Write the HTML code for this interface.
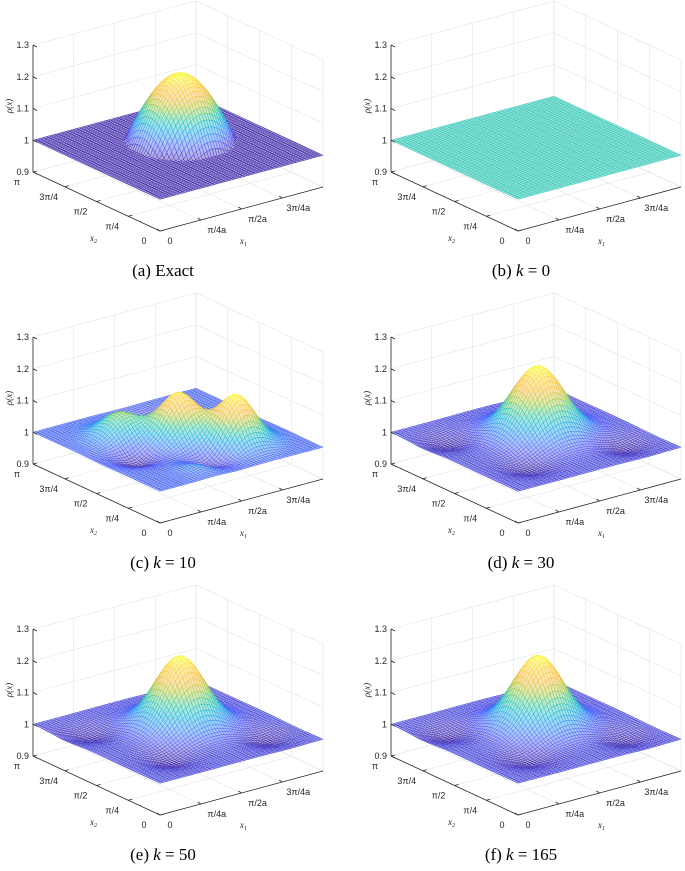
<!DOCTYPE html>
<html><head><meta charset="utf-8">
<style>
body{margin:0;background:#fff;width:685px;height:871px;overflow:hidden}
svg{position:absolute;left:0;top:0}
text{font-family:"Liberation Sans",sans-serif;font-size:9px;fill:#262626}
.cap{font-family:"Liberation Serif",serif;font-size:17px;fill:#000}
</style></head>
<body>
<svg id="chart" width="685" height="871" viewBox="0 0 685 871"></svg>
<script>
// ---- data ----
const panelLabels = ["(a) Exact","(b) ","(c) ","(d) ","(e) ","(f) "];
const panelK = [null,"0","10","30","50","165"];
const zTicks = [0.9,1.0,1.1,1.2,1.3];
const zTickLabels = ["0.9","1","1.1","1.2","1.3"];
const x1Ticks = [0,0.25,0.5,0.75];
const x1TickLabels = ["0","π/4a","π/2a","3π/4a"];
const x2Ticks = [0,0.25,0.5,0.75,1];
const x2TickLabels = ["0","π/4","π/2","3π/4","π"];
// bump parameters per panel (positions in units of π)
const bumpX1 = [[0.57],[],[0.3,0.52,0.7,0.2,0.45,0.8,0.55,0.35],[0.56,0.15,0.25,0.8,0.75],[0.56,0.15,0.25,0.8,0.75],[0.56,0.15,0.25,0.8,0.75]];
const bumpX2 = [[0.57],[],[0.7,0.52,0.3,0.45,0.2,0.55,0.8,0.15],[0.56,0.75,0.25,0.2,0.8],[0.56,0.75,0.25,0.2,0.8],[0.56,0.75,0.25,0.2,0.8]];
const bumpAmp = [[0.21],[],[0.075,0.14,0.15,-0.03,-0.03,-0.03,-0.03,0.02],[0.212,-0.02,-0.02,-0.02,-0.02],[0.218,-0.02,-0.02,-0.02,-0.02],[0.22,-0.02,-0.02,-0.02,-0.02]];
const bumpWidth = [[0.27],[],[0.095,0.095,0.095,0.08,0.08,0.08,0.08,0.07],[0.13,0.09,0.09,0.09,0.09],[0.125,0.09,0.09,0.09,0.09],[0.125,0.09,0.09,0.09,0.09]];
const compact = [true,false,false,false,false,false];

const NS="http://www.w3.org/2000/svg";
const svg=document.getElementById('chart');
function mk(tag,attrs,parent){const e=document.createElementNS(NS,tag);for(const k in attrs)e.setAttribute(k,attrs[k]);(parent||svg).appendChild(e);return e;}
const parula=[[0.2422,0.1504,0.6603],[0.2810,0.3228,0.9579],[0.1786,0.5289,0.9682],[0.0689,0.6948,0.8394],[0.2161,0.7843,0.5923],[0.6720,0.7793,0.2227],[0.9610,0.7322,0.2266],[0.9856,0.8027,0.1806],[0.9769,0.9839,0.0805]];
function cmap(t){t=Math.max(0,Math.min(1,t))*8;const i=Math.min(7,Math.floor(t)),f=t-i;return parula[i].map((c,k)=>c+(parula[i+1][k]-c)*f);}
function rgb(c,w){return 'rgb('+c.map(v=>Math.round(255*(v*(1-w)+w))).join(',')+')';}

function zval(p,a,b){
  let z=1;
  for(let i=0;i<bumpX1[p].length;i++){
    const d2=(a-bumpX1[p][i])**2+(b-bumpX2[p][i])**2, r=bumpWidth[p][i];
    if(compact[p]){const d=Math.sqrt(d2);if(d<r)z+=bumpAmp[p][i]*Math.cos(Math.PI*d/(2*r));}
    else z+=bumpAmp[p][i]*Math.exp(-d2/(2*r*r));
  }
  return z;
}

for(let p=0;p<6;p++){
  const ox=(p%2)*358, oy=Math.floor(p/2)*292;
  const g=mk('g',{transform:'translate('+ox+','+oy+')'});
  
  
  const P=(a,b,z)=>[160+163*a-127*b, 231-44*a-59*b-(z-0.9)*317.5];
  const line=(A,B,col,w,name)=>{const l=mk('line',{x1:A[0],y1:A[1],x2:B[0],y2:B[1],stroke:col,'stroke-width':w},g);
    
    return l;};
  const gc='#e3e3e3';
  x1Ticks.concat([1]).forEach(a=>{line(P(a,0,0.9),P(a,1,0.9),gc,0.6,'floor-gridline');line(P(a,1,0.9),P(a,1,1.3),gc,0.6,'wall-gridline');});
  x2Ticks.forEach(b=>{line(P(0,b,0.9),P(1,b,0.9),gc,0.6,'floor-gridline');line(P(1,b,0.9),P(1,b,1.3),gc,0.6,'wall-gridline');});
  zTicks.forEach(z=>{line(P(0,1,z),P(1,1,z),gc,0.6,'wall-gridline');line(P(1,1,z),P(1,0,z),gc,0.6,'wall-gridline');});
  const N=60, zs=[];
  for(let i=0;i<=N;i++){zs.push([]);for(let j=0;j<=N;j++)zs[i].push(zval(p,i/N,j/N));}
  let zmin=Infinity,zmax=-Infinity;zs.forEach(r=>r.forEach(v=>{zmin=Math.min(zmin,v);zmax=Math.max(zmax,v);}));
  const quads=[];
  for(let i=0;i<N;i++)for(let j=0;j<N;j++)quads.push([i,j]);
  quads.sort((q,r)=>(r[0]*44+r[1]*59)-(q[0]*44+q[1]*59));
  const sg=mk('g',{},g);
  
  
  quads.forEach(([i,j])=>{
    const pts=[[i,j],[i+1,j],[i+1,j+1],[i,j+1]].map(([a,b])=>P(a/N,b/N,zs[a][b]));
    const zc=(zs[i][j]+zs[i+1][j]+zs[i][j+1]+zs[i+1][j+1])/4;
    const c=(zmax-zmin<1e-6)?[0.2,0.78,0.72]:cmap((zc-zmin)/(zmax-zmin));
    mk('polygon',{points:pts.map(q=>q[0].toFixed(1)+','+q[1].toFixed(1)).join(' '),fill:rgb(c,0.6),stroke:rgb(c,0.05),'stroke-width':0.5},sg);
  });
  const ac='#262626';
  line(P(0,1,0.9),P(0,1,1.3),ac,0.8,'z-axis');
  line(P(0,1,0.9),P(0,0,0.9),ac,0.8,'x2-axis');
  line(P(0,0,0.9),P(1,0,0.9),ac,0.8,'x1-axis');
  zTicks.forEach((z,k)=>{const q=P(0,1,z);line(q,[q[0]+4,q[1]+2],ac,0.8,'z-tick');
    const t=mk('text',{x:q[0]-4,y:q[1]+3,'text-anchor':'end'},g);t.textContent=zTickLabels[k];
    });
  x2Ticks.forEach((b,k)=>{const q=P(0,b,0.9);line(q,[q[0]+4,q[1]-1],ac,0.8,'x2-tick');
    const t=mk('text',{x:q[0]-16,y:q[1]+13,'text-anchor':'middle'},g);t.textContent=x2TickLabels[k];
    });
  x1Ticks.forEach((a,k)=>{const q=P(a,0,0.9);line(q,[q[0]-3,q[1]-2],ac,0.8,'x1-tick');
    const t=mk('text',{x:q[0]+(k?16:10),y:q[1]+13,'text-anchor':'middle'},g);t.textContent=x1TickLabels[k];
    });
  const yl=mk('text',{x:0,y:0,transform:'translate(12,106) rotate(-90)','text-anchor':'middle','font-style':'italic',style:'font-family:"Liberation Serif",serif'},g);
  yl.textContent='ρ(x)';
  const x2l=mk('text',{x:90,y:241,'font-style':'italic',style:'font-family:"Liberation Serif",serif'},g);
  x2l.innerHTML='x<tspan font-size="6" dy="2">2</tspan>';
  const x1l=mk('text',{x:240,y:244,'font-style':'italic',style:'font-family:"Liberation Serif",serif'},g);
  x1l.innerHTML='x<tspan font-size="6" dy="2">1</tspan>';
  const cap=mk('text',{x:163,y:276,'text-anchor':'middle',class:'cap'},g);
  cap.textContent=panelLabels[p];
  if(panelK[p]!==null){const ts=mk('tspan',{'font-style':'italic'},cap);ts.textContent='k';const t2=mk('tspan',{},cap);t2.textContent=' = '+panelK[p];}
  
}
</script>
</body></html>
